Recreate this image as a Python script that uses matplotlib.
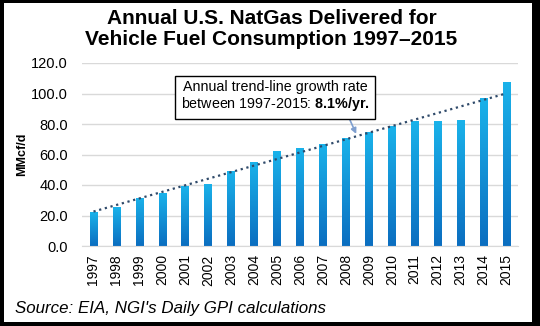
import numpy as np
import matplotlib.pyplot as plt
from matplotlib.colors import LinearSegmentedColormap
from matplotlib.patches import Rectangle

years = [str(y) for y in range(1997, 2016)]
values = [22.0, 25.5, 31.5, 34.5, 39.3, 40.8, 49.4, 55.3, 62.0, 64.4, 67.1,
          70.6, 74.5, 78.4, 81.7, 81.8, 82.4, 96.8, 107.7]
yticks = [0, 20, 40, 60, 80, 100, 120]

plt.rcParams['font.family'] = ['Liberation Sans', 'DejaVu Sans']
plt.rcParams['mathtext.fontset'] = 'custom'
plt.rcParams['mathtext.rm'] = 'Liberation Sans'
plt.rcParams['mathtext.bf'] = 'Liberation Sans:bold'

fig = plt.figure(figsize=(5.4, 3.26), dpi=100, facecolor='black')
# white card inside the black frame
fig.patches.append(Rectangle((4 / 540, 4 / 326), 528 / 540, 319 / 326,
                             transform=fig.transFigure, fc='white', ec='none', zorder=-5))
ax = fig.add_axes([82 / 540, 80 / 326, 436 / 540, 183 / 326])
ax.set_facecolor('white')

x = np.arange(len(values))
w = 0.33
cmap = LinearSegmentedColormap.from_list('g', ['#0b6ec0', '#1ab2ea'])
grad = np.linspace(0, 1, 100).reshape(-1, 1)
bars = ax.bar(x, values, width=w, color='none', zorder=2)
for b in bars:
    im = ax.imshow(grad, cmap=cmap, origin='lower', aspect='auto', zorder=2,
                   extent=[b.get_x(), b.get_x() + w, 0, b.get_height()])
    im.set_clip_path(b)

# linear trend line
k, c = np.polyfit(x, values, 1)
ax.plot(x, k * x + c, ':', color='#2f4a6a', lw=1.6, zorder=3)

ax.set_xlim(-0.5, len(values) - 0.5)
ax.set_ylim(0, 120)
ax.set_yticks(yticks)
ax.set_yticklabels(['%.1f' % v for v in yticks], fontsize=10.5)
ax.set_xticks(x)
ax.set_xticklabels(years, rotation=90, fontsize=10)
ax.tick_params(axis='y', length=0, pad=10)
ax.tick_params(axis='x', length=0, pad=6)
ax.grid(axis='y', color='#d9d9d9', lw=1)
ax.set_axisbelow(True)
for s in ['top', 'right', 'left']:
    ax.spines[s].set_visible(False)
ax.spines['bottom'].set_color('#d9d9d9')
ax.set_ylabel('MMcf/d', fontsize=9, fontweight='bold', va='center')
ax.yaxis.set_label_coords(-0.138, 0.5)

fig.text(0.503, 0.972, 'Annual U.S. NatGas Delivered for\nVehicle Fuel Consumption 1997\u20132015',
         ha='center', va='top', fontsize=15, fontweight='bold', linespacing=1.1)
fig.text(0.028, 0.055, "Source: EIA, NGI's Daily GPI calculations", fontsize=12.2,
         style='italic', ha='left', va='center')

ax.text(0.443, 0.817, 'Annual trend-line growth rate\nbetween 1997-2015: $\\mathbf{8.1\\%/yr.}$',
        transform=ax.transAxes, ha='center', va='center', multialignment='center',
        fontsize=10.3, linespacing=1.1, zorder=6,
        bbox=dict(boxstyle='square,pad=0.4', fc='white', ec='black', lw=1))
ax.annotate('', xy=(11.45, 73.5), xytext=(11.12, 84.5),
            arrowprops=dict(arrowstyle='-|>', color='#7f9fcf', lw=1.2, mutation_scale=8,
                            shrinkA=0, shrinkB=0), zorder=5)

fig.savefig('out.png', dpi=100, facecolor='black')
